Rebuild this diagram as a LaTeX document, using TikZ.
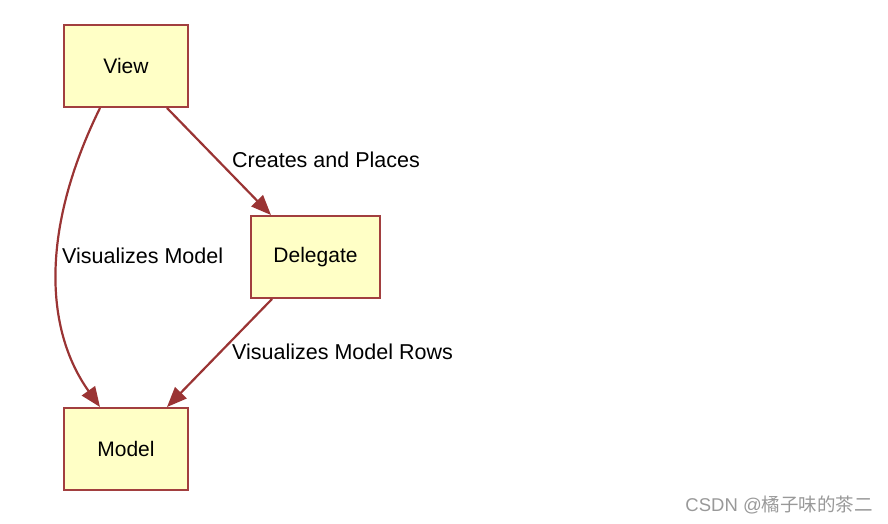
\documentclass[tikz,border=0pt]{standalone}
\usepackage{fontspec}
\setmainfont{Liberation Sans}
\newfontfamily\cjk{Noto Sans CJK SC}
\usetikzlibrary{arrows.meta}
\definecolor{bx}{HTML}{FFFFC6}
\definecolor{br}{HTML}{A23F3F}
\definecolor{ar}{HTML}{9A3434}
\begin{document}
\begin{tikzpicture}[x=1pt,y=-1pt,
  box/.style={draw=br,fill=bx,line width=2pt,minimum width=124pt,minimum height=82pt,font=\fontsize{21}{25}\selectfont,inner sep=0pt},
  lbl/.style={font=\fontsize{21.5}{25}\selectfont,anchor=west,inner sep=0pt},
  con/.style={draw=ar,line width=2.2pt,-{Triangle[length=20pt,width=16pt]}}]
\useasboundingbox (0,0) rectangle (888,523);
\node[box] (v) at (126,66) {View};
\node[box,minimum width=129pt] (d) at (315.5,257) {Delegate};
\node[box] (m) at (126,449) {Model};
\draw[con] (v.south west) ++(37,0) coordinate (vs) .. controls (40,230) and (45,330) .. ([xshift=37pt]m.north west);
\draw[con] ([xshift=-22pt]v.south east) -- ([xshift=21pt]d.north west);
\draw[con] ([xshift=22pt]d.south west) -- ([xshift=-22pt]m.north east);
\node[lbl] (l1) at (232,160) {Creates and Places};
\node[lbl] (l2) at (62,256) {Visualizes Model};
\node[lbl] (l3) at (232,352) {Visualizes Model Rows};
\node[anchor=east,inner sep=0pt,text=gray!80,font=\fontsize{18.5}{22}\selectfont] (wm) at (873,505) {CSDN @{\cjk 橘子味的茶二}};
\end{tikzpicture}
\end{document}
